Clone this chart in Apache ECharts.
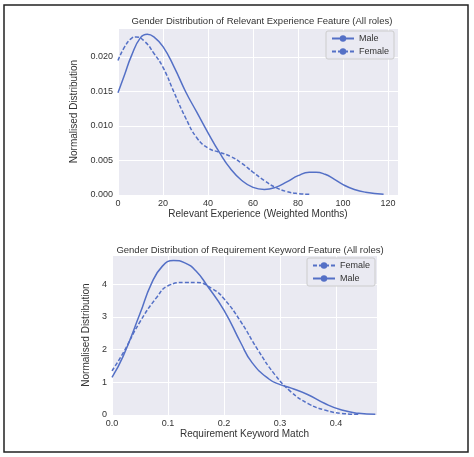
<!DOCTYPE html>
<html>
<head>
<meta charset="utf-8">
<script src="https://cdn.jsdelivr.net/npm/echarts@6/dist/echarts.min.js"></script>
<style>html,body{margin:0;padding:0;background:#fff}#chart{width:474px;height:457px}</style>
</head>
<body>
<div id="chart"></div>
<script>
// Relevant experience KDE (x = weighted months)
const expMale = [[0,0.0148],[3,0.0175],[6,0.0202],[10,0.0228],[13,0.0233],[16,0.0229],[20,0.0215],[25,0.0185],[30,0.0150],[35,0.0120],[40,0.0090],[45,0.0062],[50,0.0038],[55,0.0021],[60,0.0011],[65,0.0008],[70,0.0011],[75,0.0019],[80,0.0028],[85,0.0033],[88,0.0033],[92,0.0030],[96,0.0023],[100,0.0015],[105,0.0008],[110,0.0004],[118,0.0001]];
const expFemale = [[0,0.0195],[3,0.0215],[6,0.0227],[8,0.0229],[12,0.0222],[16,0.0205],[20,0.0185],[25,0.0148],[30,0.0112],[35,0.0083],[40,0.0068],[45,0.0062],[50,0.0056],[55,0.0046],[60,0.0033],[65,0.0021],[70,0.0011],[75,0.0005],[80,0.0002],[85,0.0001]];
// Requirement keyword match KDE
const kwMale = [[0,1.15],[0.02,1.8],[0.05,3.1],[0.07,4.0],[0.09,4.55],[0.11,4.72],[0.13,4.65],[0.15,4.4],[0.17,3.95],[0.2,3.2],[0.23,2.2],[0.25,1.6],[0.28,1.1],[0.3,0.93],[0.32,0.82],[0.35,0.62],[0.38,0.35],[0.41,0.15],[0.44,0.05],[0.47,0.02]];
const kwFemale = [[0,1.35],[0.02,1.9],[0.05,2.85],[0.08,3.6],[0.1,3.95],[0.13,4.05],[0.15,4.05],[0.18,3.85],[0.2,3.55],[0.23,2.85],[0.26,2.0],[0.29,1.25],[0.32,0.7],[0.35,0.35],[0.38,0.15],[0.41,0.05],[0.44,0.02]];

const blue = '#5470c6';
const font = 'Liberation Sans, Arial, sans-serif';
const txt = { color: '#333', fontSize: 9, fontFamily: font };

const chart = echarts.init(document.getElementById('chart'));

function line(name, data, idx, dashed) {
    return {
        name: name, type: 'line', data: data, xAxisIndex: idx, yAxisIndex: idx,
        smooth: true, showSymbol: false, symbol: 'none',
        lineStyle: { color: blue, width: 1.5, type: dashed ? [4, 2] : 'solid' },
        itemStyle: { color: blue }
    };
}

function xAx(idx, max, interval, name, fmt) {
    return {
        type: 'value', gridIndex: idx, min: 0, max: max, interval: interval,
        name: name, nameLocation: 'middle', nameGap: 14,
        nameTextStyle: { color: '#333', fontSize: 10, fontFamily: font },
        axisLine: { show: false }, axisTick: { show: false },
        axisLabel: Object.assign({ margin: 4, formatter: fmt, showMaxLabel: false }, txt),
        splitLine: { lineStyle: { color: '#fff', width: 1 } }
    };
}
function yAx(idx, max, interval, fmt) {
    return {
        type: 'value', gridIndex: idx, min: 0, max: max, interval: interval,
        name: 'Normalised Distribution', nameLocation: 'middle', nameGap: idx ? 18 : 32,
        nameTextStyle: { color: '#333', fontSize: 10, fontFamily: font },
        axisLine: { show: false }, axisTick: { show: false },
        axisLabel: Object.assign({ margin: 5, formatter: fmt, showMaxLabel: false }, txt),
        splitLine: { lineStyle: { color: '#fff', width: 1 } }
    };
}

chart.setOption({
    animation: false,
    graphic: [{ type: 'rect', shape: { x: 4, y: 5, width: 464, height: 447 }, style: { fill: 'none', stroke: '#222', lineWidth: 1.5 } }],
    title: [
        { text: 'Gender Distribution of Relevant Experience Feature (All roles)', left: 257, top: 11, textAlign: 'center', textStyle: { fontSize: 9.5, fontWeight: 'normal', color: '#333', fontFamily: font } },
        { text: 'Gender Distribution of Requirement Keyword Feature (All roles)', left: 245, top: 240, textAlign: 'center', textStyle: { fontSize: 9.5, fontWeight: 'normal', color: '#333', fontFamily: font } }
    ],
    grid: [
        { left: 118, top: 28, width: 280, height: 167, backgroundColor: '#eaeaf2', show: true, borderWidth: 0 },
        { left: 112, top: 255, width: 265, height: 160, backgroundColor: '#eaeaf2', show: true, borderWidth: 0 }
    ],
    legend: [
        { data: ['Male', 'Female'], right: 80, top: 31, orient: 'vertical', itemWidth: 22, itemHeight: 8, itemGap: 4,
          backgroundColor: '#eaeaf2', borderColor: '#ccc', borderWidth: 1, borderRadius: 2, padding: [3, 5], textStyle: txt },
        { data: ['Female', 'Male'], right: 99, top: 258, orient: 'vertical', itemWidth: 22, itemHeight: 8, itemGap: 4,
          backgroundColor: '#eaeaf2', borderColor: '#ccc', borderWidth: 1, borderRadius: 2, padding: [3, 5], textStyle: txt }
    ],
    xAxis: [
        xAx(0, 124.4, 20, 'Relevant Experience (Weighted Months)', v => v.toFixed(0)),
        xAx(1, 0.473, 0.1, 'Requirement Keyword Match', v => v.toFixed(1))
    ],
    yAxis: [
        yAx(0, 0.0242, 0.005, v => v.toFixed(3)),
        yAx(1, 4.89, 1, v => v.toFixed(0))
    ],
    series: [
        line('Male', expMale, 0, false),
        line('Female', expFemale, 0, true),
        line('Female', kwFemale, 1, true),
        line('Male', kwMale, 1, false)
    ]
});
</script>
</body>
</html>
